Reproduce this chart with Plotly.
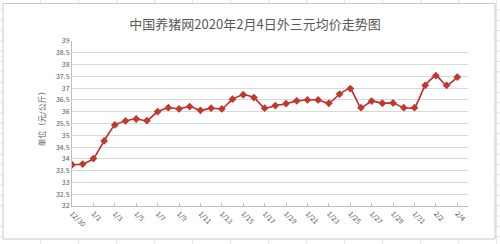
import plotly.graph_objects as go

dates = ["12/30", "12/31"] + [f"1/{d}" for d in range(1, 32)] + [f"2/{d}" for d in range(1, 5)]
prices = [33.75, 33.78, 34.01, 34.76, 35.44, 35.61, 35.69, 35.62, 36.00, 36.17,
          36.12, 36.22, 36.06, 36.15, 36.12, 36.53, 36.72, 36.60, 36.15, 36.26,
          36.34, 36.46, 36.50, 36.50, 36.36, 36.75, 36.98, 36.17, 36.45, 36.36,
          36.37, 36.17, 36.17, 37.12, 37.53, 37.12, 37.47]
y_ticks = [32 + 0.5 * i for i in range(15)]
y_tick_text = [("%g" % v) for v in y_ticks]
x_idx = list(range(len(dates)))

W, H = 500, 244
L, R, T, B = 72, 32, 41, 38
pw, ph = W - L - R, H - T - B

def px(x):
    return (x - L) / pw

def py(y):
    return (H - B - y) / ph

fig = go.Figure()
fig.add_trace(go.Scatter(
    x=x_idx, y=prices, mode="lines+markers",
    line=dict(color="#C0282D", width=1.6, shape="spline", smoothing=0.5),
    marker=dict(symbol="diamond", size=6, color="#C0392B"),
    hoverinfo="x+y", showlegend=False,
))

shapes = []
# spreadsheet cell lines around the chart
for i in range(14):
    x = 40.7 + 38 * i
    shapes.append(dict(type="line", xref="paper", yref="paper", x0=px(x), x1=px(x),
                       y0=py(0), y1=py(H), line=dict(color="#e3e3e3", width=1), layer="below"))
for i in range(25):
    y = 10 + 10.3 * i
    shapes.append(dict(type="line", xref="paper", yref="paper", x0=px(0), x1=px(W),
                       y0=py(y), y1=py(y), line=dict(color="#e3e3e3", width=1), layer="below"))
# chart frame
shapes.append(dict(type="rect", xref="paper", yref="paper", x0=px(3), x1=px(495),
                   y0=py(239), y1=py(3.5), fillcolor="white",
                   line=dict(color="#c8c8c8", width=1), layer="below"))
fig.update_layout(shapes=shapes)

fig.update_layout(
    width=W, height=H,
    margin=dict(l=L, r=R, t=T, b=B),
    paper_bgcolor="white", plot_bgcolor="rgba(0,0,0,0)",
    font=dict(family="Noto Sans CJK SC, Noto Sans, sans-serif", color="#595959"),
    title=dict(text="中国养猪网2020年2月4日外三元均价走势图", x=255 / W, y=1 - 24 / H,
               xanchor="center", yanchor="middle",
               font=dict(size=13, color="#595959")),
    xaxis=dict(range=[0, len(dates)], tickmode="array",
               tickvals=x_idx[::2], ticktext=dates[::2], tickangle=45,
               tickfont=dict(size=7, color="#595959"),
               showgrid=False, showline=True, linecolor="#bfbfbf", linewidth=1,
               ticks="inside", ticklen=3, tickcolor="#bfbfbf", zeroline=False,
               fixedrange=True),
    yaxis=dict(range=[32, 39], tickmode="array", tickvals=y_ticks, ticktext=y_tick_text,
               tickfont=dict(size=7, color="#595959"),
               showgrid=True, gridcolor="#d9d9d9", gridwidth=1,
               showline=True, linecolor="#bfbfbf", linewidth=1, zeroline=False,
               ticks="", fixedrange=True),
    annotations=[dict(text="单位（元/公斤）", xref="paper", yref="paper",
                      x=px(33), y=py(117), textangle=-90, showarrow=False,
                      font=dict(size=8, color="#595959"))],
)

fig.write_html("out.html")
